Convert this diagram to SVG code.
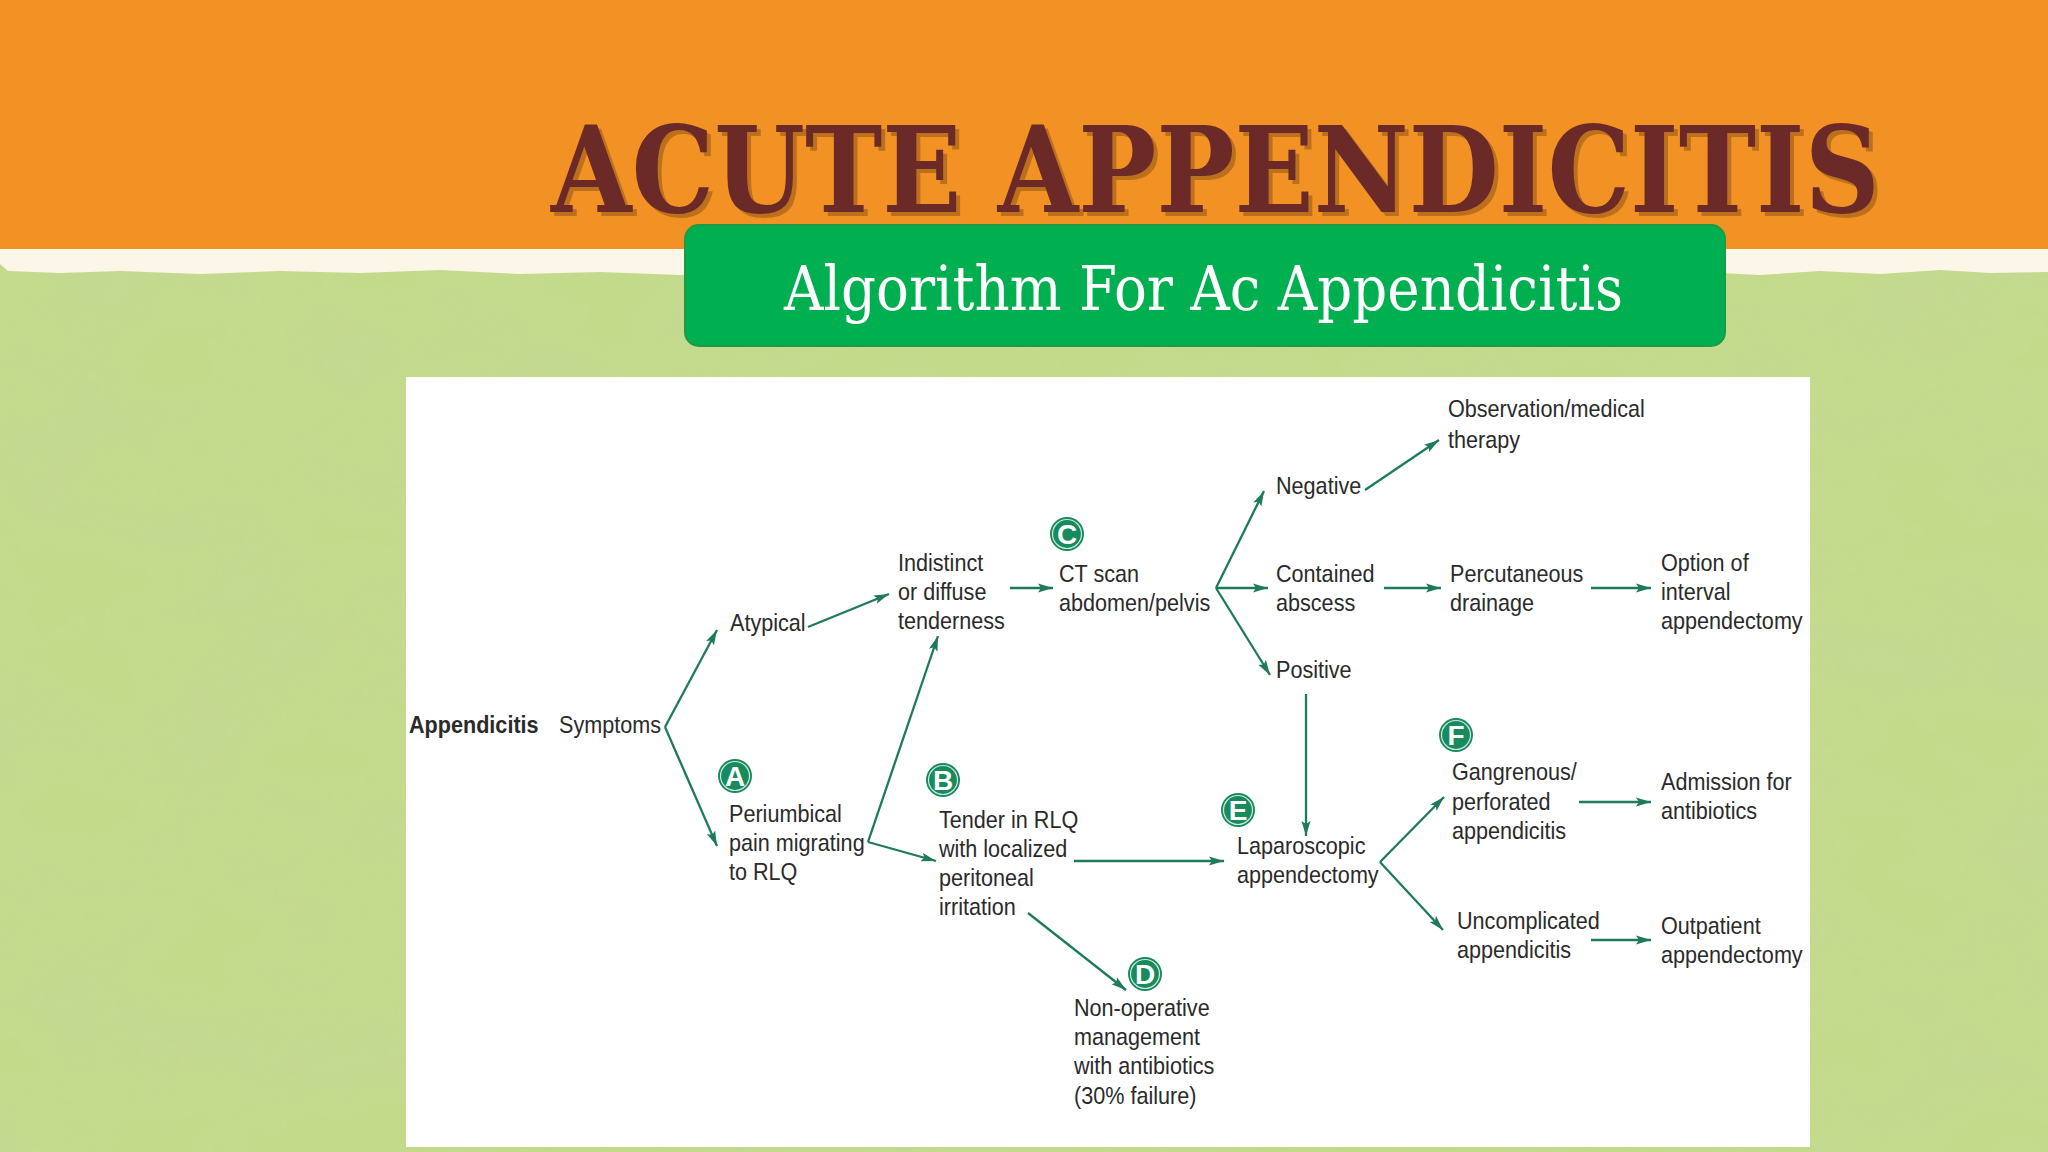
<svg xmlns="http://www.w3.org/2000/svg" width="2048" height="1152" viewBox="0 0 2048 1152">
<defs>
<style>
.t{font-family:"Liberation Sans",Arial,sans-serif;font-size:24px;fill:#2a2a2a;transform-box:fill-box;transform-origin:0% 50%;transform:scaleX(0.9)}
.b{font-weight:bold}
.c{stroke:#1f7a5a;stroke-width:2.3;fill:none;marker-end:url(#ah)}
.badge circle.o{fill:#178a5e}
.badge circle.i{fill:none;stroke:#ffffff;stroke-width:1.2;opacity:0.8}
.bl{font-family:"Liberation Sans",Arial,sans-serif;font-size:28px;font-weight:bold;fill:#ffffff;text-anchor:middle}
.ttl{font-family:"DejaVu Serif","Liberation Serif",serif;font-weight:bold;font-size:120px}
</style>
<marker id="ah" markerUnits="userSpaceOnUse" markerWidth="16" markerHeight="10" refX="15" refY="5" orient="auto">
<path d="M0,0.5 L15,5 L0,9.5 L3,5 Z" fill="#1f7a5a"/>
</marker>
<filter id="tex" x="0" y="0" width="100%" height="100%">
<feTurbulence type="fractalNoise" baseFrequency="0.006 0.01" numOctaves="4" seed="3"/>
<feColorMatrix type="matrix" values="0 0 0 0 0.55  0 0 0 0 0.68  0 0 0 0 0.35  0 0 0 1.1 -0.35"/>
</filter>
</defs>

<!-- background -->
<rect x="0" y="0" width="2048" height="1152" fill="#c4da8b"/>
<rect x="0" y="270" width="2048" height="882" filter="url(#tex)" opacity="0.55"/>
<path d="M0,249 L2048,249 L2048,272 L1990,273 L1940,270 L1880,274 L1820,271 L1760,275 L1700,272 L1640,274 L1560,271 L1480,274 L1400,271 L1320,273 L1240,270 L1160,274 L1080,271 L1000,273 L920,270 L840,274 L760,271 L680,275 L600,272 L520,274 L440,270 L360,273 L280,271 L200,274 L120,271 L60,273 L8,271 L0,264 Z" fill="#fcf6e8"/>
<rect x="0" y="0" width="2048" height="249" fill="#f39224"/>

<!-- subtitle box -->
<g id="subtitle">
<rect x="685" y="225" width="1040" height="121" rx="14" fill="#00b050" stroke="#1c9a45" stroke-width="2"/>
<text x="784" y="310" font-family="'DejaVu Serif','Liberation Serif',serif" font-size="62" fill="#ffffff" textLength="839" lengthAdjust="spacingAndGlyphs">Algorithm For Ac Appendicitis</text>
</g>

<!-- title -->
<g id="title">
<text class="ttl" transform="translate(555 216) scale(0.866 1)" x="0" y="0" fill="#5a3210" opacity="0.35">ACUTE APPENDICITIS</text>
<text class="ttl" transform="translate(551 212) scale(0.866 1)" x="0" y="0" fill="#6b2a28">ACUTE APPENDICITIS</text>
</g>

<!-- white panel -->
<rect x="406" y="377" width="1404" height="770" fill="#ffffff"/>

<!-- connectors -->
<g id="connectors">
<path class="c" d="M665,727 L717,630"/>
<path class="c" d="M665,727 L717,846"/>
<path class="c" d="M808,627 L889,594"/>
<path class="c" d="M868,842 L938,636"/>
<path class="c" d="M868,842 L936,861"/>
<path class="c" d="M1010,588 L1053,588"/>
<path class="c" d="M1216,588 L1264,491"/>
<path class="c" d="M1216,588 L1268,588"/>
<path class="c" d="M1216,588 L1270,675"/>
<path class="c" d="M1365,490 L1439,440"/>
<path class="c" d="M1384,588 L1441,588"/>
<path class="c" d="M1591,588 L1651,588"/>
<path class="c" d="M1306,694 L1306,836"/>
<path class="c" d="M1074,861 L1224,861"/>
<path class="c" d="M1028,913 L1126,990"/>
<path class="c" d="M1380,862 L1444,797"/>
<path class="c" d="M1380,862 L1443,930"/>
<path class="c" d="M1579,802 L1651,802"/>
<path class="c" d="M1591,940 L1651,940"/>
</g>

<!-- nodes -->
<g id="n-appendicitis"><text class="t b" x="409" y="733">Appendicitis</text></g>
<g id="n-symptoms"><text class="t" x="559" y="733">Symptoms</text></g>
<g id="n-atypical"><text class="t" x="730" y="631">Atypical</text></g>
<g id="n-indistinct"><text class="t" x="898" y="571">Indistinct</text><text class="t" x="898" y="600">or diffuse</text><text class="t" x="898" y="629">tenderness</text></g>
<g id="n-ct"><text class="t" x="1059" y="582">CT scan</text><text class="t" x="1059" y="611">abdomen/pelvis</text></g>
<g id="n-negative"><text class="t" x="1276" y="494">Negative</text></g>
<g id="n-observation"><text class="t" x="1448" y="417">Observation/medical</text><text class="t" x="1448" y="448">therapy</text></g>
<g id="n-contained"><text class="t" x="1276" y="582">Contained</text><text class="t" x="1276" y="611">abscess</text></g>
<g id="n-percutaneous"><text class="t" x="1450" y="582">Percutaneous</text><text class="t" x="1450" y="611">drainage</text></g>
<g id="n-option"><text class="t" x="1661" y="571">Option of</text><text class="t" x="1661" y="600">interval</text><text class="t" x="1661" y="629">appendectomy</text></g>
<g id="n-positive"><text class="t" x="1276" y="678">Positive</text></g>
<g id="n-periumbical"><text class="t" x="729" y="822">Periumbical</text><text class="t" x="729" y="851">pain migrating</text><text class="t" x="729" y="880">to RLQ</text></g>
<g id="n-tender"><text class="t" x="939" y="828">Tender in RLQ</text><text class="t" x="939" y="857">with localized</text><text class="t" x="939" y="886">peritoneal</text><text class="t" x="939" y="915">irritation</text></g>
<g id="n-laparoscopic"><text class="t" x="1237" y="854">Laparoscopic</text><text class="t" x="1237" y="883">appendectomy</text></g>
<g id="n-gangrenous"><text class="t" x="1452" y="780">Gangrenous/</text><text class="t" x="1452" y="810">perforated</text><text class="t" x="1452" y="839">appendicitis</text></g>
<g id="n-admission"><text class="t" x="1661" y="790">Admission for</text><text class="t" x="1661" y="819">antibiotics</text></g>
<g id="n-uncomplicated"><text class="t" x="1457" y="929">Uncomplicated</text><text class="t" x="1457" y="958">appendicitis</text></g>
<g id="n-outpatient"><text class="t" x="1661" y="934">Outpatient</text><text class="t" x="1661" y="963">appendectomy</text></g>
<g id="n-nonoperative"><text class="t" x="1074" y="1016">Non-operative</text><text class="t" x="1074" y="1045">management</text><text class="t" x="1074" y="1074">with antibiotics</text><text class="t" x="1074" y="1104">(30% failure)</text></g>

<!-- badges -->
<g id="badge-A" class="badge"><circle class="o" cx="735" cy="776" r="17"/><circle class="i" cx="735" cy="776" r="14.5"/><text class="bl" x="735" y="786">A</text></g>
<g id="badge-B" class="badge"><circle class="o" cx="943" cy="780" r="17"/><circle class="i" cx="943" cy="780" r="14.5"/><text class="bl" x="943" y="790">B</text></g>
<g id="badge-C" class="badge"><circle class="o" cx="1067" cy="534" r="17"/><circle class="i" cx="1067" cy="534" r="14.5"/><text class="bl" x="1067" y="544">C</text></g>
<g id="badge-D" class="badge"><circle class="o" cx="1145" cy="974" r="17"/><circle class="i" cx="1145" cy="974" r="14.5"/><text class="bl" x="1145" y="984">D</text></g>
<g id="badge-E" class="badge"><circle class="o" cx="1238" cy="810" r="17"/><circle class="i" cx="1238" cy="810" r="14.5"/><text class="bl" x="1238" y="820">E</text></g>
<g id="badge-F" class="badge"><circle class="o" cx="1456" cy="735" r="17"/><circle class="i" cx="1456" cy="735" r="14.5"/><text class="bl" x="1456" y="745">F</text></g>
</svg>
